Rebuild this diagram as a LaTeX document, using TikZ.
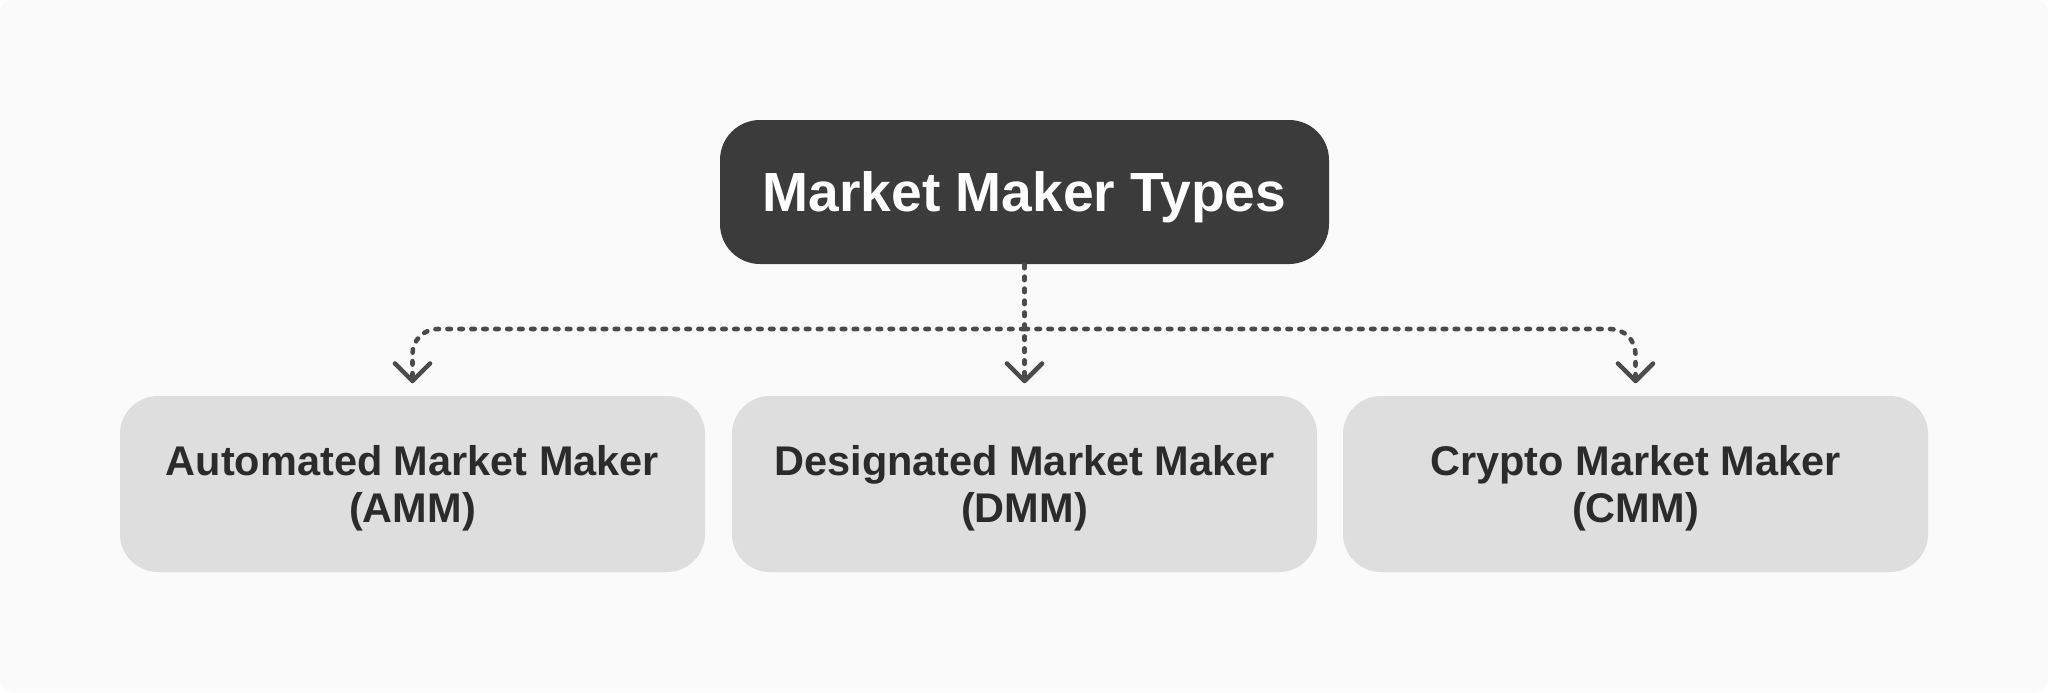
\documentclass[tikz,border=0pt]{standalone}
\usepackage{fontspec}
\setmainfont{Liberation Sans}
\usepackage{tikz}
\usetikzlibrary{arrows.meta,shapes}
\definecolor{pagebg}{HTML}{FAFAFA}
\definecolor{rootfill}{HTML}{3B3B3B}
\definecolor{typefill}{HTML}{DEDEDE}
\definecolor{typetext}{HTML}{2B2B2B}
\definecolor{linkcol}{HTML}{4B4B4B}
\tikzstyle{root box}=[rectangle,rounded corners=0.4cm,fill=rootfill,text=white,minimum width=6.09cm,minimum height=1.44cm,inner sep=0pt,text depth=0pt,font=\fontsize{15.7}{19}\selectfont\bfseries]
\tikzstyle{type box}=[rectangle,rounded corners=0.38cm,fill=typefill,text=typetext,minimum width=5.85cm,minimum height=1.76cm,inner sep=0pt,text depth=0pt,align=center,font=\fontsize{11.8}{13.2}\selectfont\bfseries]
\tikzstyle{link}=[draw=linkcol,line width=1.3pt,line cap=round,dash pattern=on 1.0pt off 2.4pt,-{Straight Barb[length=1.75mm,width=3.5mm,round]},shorten >=0.12cm]

\begin{document}
\begin{tikzpicture}
    % Background of the page
    \fill[pagebg,rounded corners=0.12cm] (0,0) rectangle (20.48,6.92);
    \useasboundingbox (0,0) rectangle (20.48,6.92);

    % First we draw the nodes
    \node[root box] (root) at (10.245,5.00) {Market Maker Types};

    \foreach \pos/\name/\label in {{(4.125,2.08)/amm/{Automated Market Maker\\(AMM)}}, {(10.245,2.08)/dmm/{Designated Market Maker\\(DMM)}}, {(16.355,2.08)/cmm/{Crypto Market Maker\\(CMM)}}}
        \node[type box] (\name) at \pos {\label};

    % Split point of the links
    \coordinate (split) at (10.245,3.63);

    % Connect the root with the types
    \path[link] (root.south) -- (dmm.north);
    \foreach \dest in {amm, cmm}
        \path[link,rounded corners=0.25cm] (split) -| (\dest.north);
\end{tikzpicture}
\end{document}
